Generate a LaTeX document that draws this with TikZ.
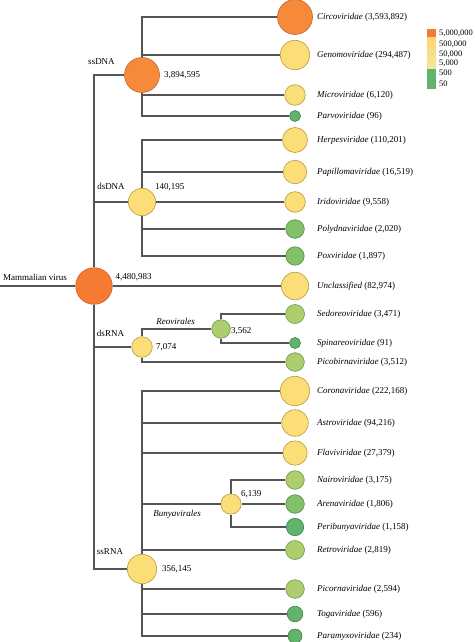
\documentclass[tikz,border=0pt]{standalone}
\usepackage{fontspec}
\setmainfont{Liberation Serif}
\definecolor{fR}{RGB}{245,122,50}
\definecolor{fO}{RGB}{246,138,58}
\definecolor{eO}{RGB}{200,100,40}
\definecolor{fY}{RGB}{252,222,120}
\definecolor{eY}{RGB}{185,155,60}
\definecolor{fL}{RGB}{172,206,110}
\definecolor{eL}{RGB}{110,150,70}
\definecolor{fM}{RGB}{130,192,106}
\definecolor{eM}{RGB}{80,140,70}
\definecolor{fG}{RGB}{98,180,108}
\definecolor{eG}{RGB}{60,130,70}
\definecolor{ln}{RGB}{85,85,85}
\definecolor{pale}{RGB}{240,232,160}
\tikzset{
  bub/.style={circle, inner sep=0pt, line width=0.6pt},
  red/.style={bub, fill=fR, draw=eO, minimum size=#1},
  ora/.style={bub, fill=fO, draw=eO, minimum size=#1},
  yel/.style={bub, fill=fY, draw=eY, minimum size=#1},
  lgr/.style={bub, fill=fL, draw=eL, minimum size=#1},
  mgr/.style={bub, fill=fM, draw=eM, minimum size=#1},
  dgr/.style={bub, fill=fG, draw=eG, minimum size=#1},
  lab/.style={anchor=west, inner sep=0pt, font=\fontsize{9}{11}\selectfont},
  clab/.style={anchor=center, inner sep=0pt, font=\fontsize{9}{11}\selectfont},
  leg/.style={anchor=west, inner sep=0pt, font=\fontsize{8.4}{10}\selectfont},
  conn/.style={draw=ln, line width=1.1pt}
}
\begin{document}
\begin{tikzpicture}[x=1pt,y=-1pt]
\useasboundingbox (0,0) rectangle (474,642);
% internal nodes
\node[red=36.6pt] (root) at (94,286) {};
\node[ora=35pt] (ssDNA) at (142,75) {};
\node[yel=27.4pt] (dsDNA) at (142,202) {};
\node[yel=20.6pt] (dsRNA) at (142,347) {};
\node[yel=29.4pt] (ssRNA) at (142,569) {};
\node[lgr=18.6pt] (reo) at (221,329) {};
\node[yel=20.4pt] (buny) at (231,504) {};
% leaves
\node[ora=35pt] (circo) at (295,17) {};
\node[yel=29.4pt] (genomo) at (295,55) {};
\node[yel=20.6pt] (micro) at (295,95) {};
\node[dgr=11pt] (parvo) at (295,116) {};
\node[yel=25pt] (herpes) at (295,140) {};
\node[yel=23.4pt] (papillo) at (295,172) {};
\node[yel=20.6pt] (irido) at (295,202) {};
\node[mgr=18.6pt] (polydna) at (295,229) {};
\node[mgr=18.4pt] (pox) at (295,256) {};
\node[yel=27.4pt] (unclass) at (295,286) {};
\node[lgr=19pt] (sedoreo) at (295,314) {};
\node[dgr=11pt] (spinareo) at (295,343) {};
\node[lgr=18.6pt] (picobirna) at (295,362) {};
\node[yel=29.4pt] (corona) at (295,391) {};
\node[yel=26.6pt] (astro) at (295,423) {};
\node[yel=24.4pt] (flavi) at (295,453) {};
\node[lgr=18.6pt] (nairo) at (295,480) {};
\node[mgr=18.6pt] (arena) at (295,504) {};
\node[dgr=17.4pt] (peri) at (295,527) {};
\node[lgr=19pt] (retro) at (295,550) {};
\node[lgr=18.6pt] (picorna) at (295,589) {};
\node[dgr=15.6pt] (toga) at (295,614) {};
\node[dgr=14pt] (paramyxo) at (295,636) {};
% connectors
\coordinate (start) at (0,286);
\draw[conn] (start) -- (root);
\draw[conn] (root) -- (unclass);
\draw[conn] (ssDNA.west) -| (root.north);
\draw[conn] (dsDNA.west) -| (root.north);
\draw[conn] (dsRNA.west) -| (root.south);
\draw[conn] (ssRNA.west) -| (root.south);
\draw[conn] (circo) -| (ssDNA);
\draw[conn] (genomo) -| (ssDNA);
\draw[conn] (micro) -| (ssDNA);
\draw[conn] (parvo) -| (ssDNA);
\draw[conn] (herpes) -| (dsDNA);
\draw[conn] (papillo) -| (dsDNA);
\draw[conn] (dsDNA) -- (irido);
\draw[conn] (polydna) -| (dsDNA);
\draw[conn] (pox) -| (dsDNA);
\draw[conn] (reo) -| (dsRNA);
\draw[conn] (picobirna) -| (dsRNA);
\draw[conn] (sedoreo) -| (reo);
\draw[conn] (spinareo) -| (reo);
\draw[conn] (corona) -| (ssRNA);
\draw[conn] (astro) -| (ssRNA);
\draw[conn] (flavi) -| (ssRNA);
\draw[conn] (buny) -| (ssRNA);
\draw[conn] (retro) -| (ssRNA);
\draw[conn] (picorna) -| (ssRNA);
\draw[conn] (toga) -| (ssRNA);
\draw[conn] (paramyxo) -| (ssRNA);
\draw[conn] (nairo) -| (buny);
\draw[conn] (buny) -- (arena);
\draw[conn] (peri) -| (buny);
% internal labels
\node[lab] (lroot) at (3,277) {Mammalian virus};
\node[lab] (nroot) at (115.5,277) {4,480,983};
\node[clab] (lss) at (101.5,62) {ssDNA};
\node[lab] (nss) at (164,75) {3,894,595};
\node[clab] (lds) at (111,186) {dsDNA};
\node[lab] (nds) at (155,187) {140,195};
\node[clab] (ldr) at (110.5,333) {dsRNA};
\node[lab] (ndr) at (156,347) {7,074};
\node[clab] (lreo) at (175.5,321) {\textit{Reovirales}};
\node[lab] (nreo) at (231,331) {3,562};
\node[clab] (lbun) at (177,514) {\textit{Bunyavirales}};
\node[lab] (nbun) at (241,494) {6,139};
\node[clab] (lsr) at (110,552) {ssRNA};
\node[lab] (nsr) at (162,569.5) {356,145};
% leaf labels
\node[lab] at (317,17) (t1) {\textit{Circoviridae} (3,593,892)};
\node[lab] at (317,55) (t2) {\textit{Genomoviridae} (294,487)};
\node[lab] at (317,95) (t3) {\textit{Microviridae} (6,120)};
\node[lab] at (317,116) (t4) {\textit{Parvoviridae} (96)};
\node[lab] at (317,140) (t5) {\textit{Herpesviridae} (110,201)};
\node[lab] at (317,172) (t6) {\textit{Papillomaviridae} (16,519)};
\node[lab] at (317,202) (t7) {\textit{Iridoviridae} (9,558)};
\node[lab] at (317,229) (t8) {\textit{Polydnaviridae} (2,020)};
\node[lab] at (317,256) (t9) {\textit{Poxviridae} (1,897)};
\node[lab] at (317,286) (t10) {\textit{Unclassified} (82,974)};
\node[lab] at (317,314) (t11) {\textit{Sedoreoviridae} (3,471)};
\node[lab] at (317,343) (t12) {\textit{Spinareoviridae} (91)};
\node[lab] at (317,362) (t13) {\textit{Picobirnaviridae} (3,512)};
\node[lab] at (317,391) (t14) {\textit{Coronaviridae} (222,168)};
\node[lab] at (317,423) (t15) {\textit{Astroviridae} (94,216)};
\node[lab] at (317,453) (t16) {\textit{Flaviviridae} (27,379)};
\node[lab] at (317,480) (t17) {\textit{Nairoviridae} (3,175)};
\node[lab] at (317,504) (t18) {\textit{Arenaviridae} (1,806)};
\node[lab] at (317,527) (t19) {\textit{Peribunyaviridae} (1,158)};
\node[lab] at (317,550) (t20) {\textit{Retroviridae} (2,819)};
\node[lab] at (317,589) (t21) {\textit{Picornaviridae} (2,594)};
\node[lab] at (317,614) (t22) {\textit{Togaviridae} (596)};
\node[lab] at (317,636) (t23) {\textit{Paramyxoviridae} (234)};
% legend
\fill[fR] (427,29.3) rectangle (436,37.5);
\shade[top color=fY!90!fO, bottom color=pale] (427,37.5) rectangle (436,68.5);
\fill[fG] (427,68.5) rectangle (436,89);
\node[leg] (g1) at (439,33.5) {5,000,000};
\node[leg] (g2) at (439,44) {500,000};
\node[leg] (g3) at (439,54) {50,000};
\node[leg] (g4) at (439,63.5) {5,000};
\node[leg] (g5) at (439,73) {500};
\node[leg] (g6) at (439,83.3) {50};
\end{tikzpicture}
\end{document}
